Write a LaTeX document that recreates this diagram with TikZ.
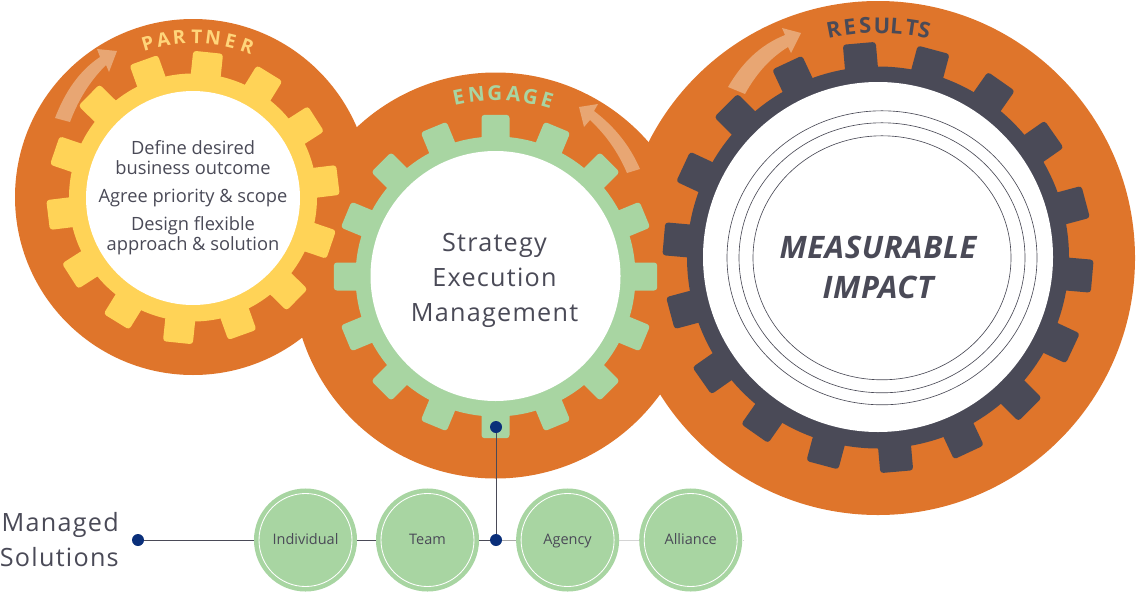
\documentclass[tikz,border=0pt]{standalone}
\usepackage{fontspec}
\setmainfont{Open Sans}
\usepackage{tikz}
\usetikzlibrary{calc}

\definecolor{rimorange}{HTML}{DF752B}
\definecolor{arrowtint}{HTML}{E8A673}
\definecolor{gearyellow}{HTML}{FFD357}
\definecolor{labelyellow}{HTML}{FFD57A}
\definecolor{geargreen}{HTML}{A8D5A2}
\definecolor{geardark}{HTML}{4A4A57}
\definecolor{dotnavy}{HTML}{0A2F7A}
\definecolor{wiregrey}{HTML}{A6A6A6}
\definecolor{wirepale}{HTML}{D4D4D4}

\tikzset{
    arclabel/.style={inner sep=0pt, font=\fontsize{13.5}{13.5}\selectfont\bfseries},
    bodytext/.style={align=center, text=geardark, inner sep=0pt},
    spaced/.style={font=\fontsize{17.9}{24.9}\selectfont\addfontfeature{LetterSpace=5}},
    solution/.style={circle, fill=geargreen, minimum size=2.575cm, inner sep=0pt, text=geardark, text height=8.4pt, text depth=1.5pt, font=\fontsize{10.3}{12}\selectfont},
    dot/.style={circle, fill=dotnavy, minimum size=.3cm, inner sep=0pt},
    wire/.style={draw=geardark, line width=.7pt},
    hoop/.style={draw=geardark, line width=.45pt}
}

\newcommand{\gearwheel}[8]{
    \fill[#8] (#1,#2) circle (#5);
    \foreach \k in {1,...,#3}
        \fill[#8, rounded corners=2.2pt, shift={(#1,#2)}, rotate=#4+\k*360/#3] (#5-8,-#7/2) rectangle (#6,#7/2);
}

\begin{document}
\begin{tikzpicture}[x=.025cm, y=-.025cm]
    \useasboundingbox (0,0) rectangle (1136,592);

    \fill[rimorange] (193,197) circle (178);
    \fill[rimorange] (495.5,275.5) circle (203);
    \fill[rimorange] (878,258) circle (257);

    \fill[arrowtint] (55,118) .. controls (65,92) and (79,71) .. (100,57) -- (97,49) -- (117,51) -- (109,72) -- (106,65) .. controls (91,80) and (79,98) .. (70,122) -- cycle;
    \fill[arrowtint] (640,169) .. controls (630,146) and (615,127) .. (594,111) -- (598,104) -- (579,107) -- (584,127) -- (590,120) .. controls (606,135) and (618,152) .. (627,173) -- cycle;
    \fill[arrowtint] (728,87) .. controls (742,63) and (760,45) .. (785,35) -- (782,28) -- (801,33) -- (791,53) -- (788,47) .. controls (770,58) and (756,74) .. (745,94) -- cycle;

    \gearwheel{193}{197.5}{14}{6.9}{124}{146}{30}{gearyellow}
    \gearwheel{495.5}{276.5}{16}{0}{140}{161.7}{28}{geargreen}
    \gearwheel{878}{257.5}{18}{-5}{191}{215}{33}{geardark}

    \fill[white] (193,198) circle (107);
    \fill[white] (495.5,276) circle (125);
    \fill[white] (878,257) circle (175);

    \draw[hoop] (882,257.8) ellipse (155 and 147);
    \draw[hoop] (882,257.8) ellipse (143 and 135);
    \draw[hoop] (882,257.8) ellipse (129 and 122);

    \foreach \ch/\ang [count=\i] in {P/106.3,A/100.6,R/95,T/88.7,N/82.8,E/76.5,R/70.4}
        \node[arclabel, text=labelyellow, rotate=\ang-90] (partner\i) at ([shift={(193,198)}] -\ang:161.5) {\ch};
    \foreach \ch/\ang [count=\i] in {E/101.6,N/96,G/90.2,A/84.3,G/79,E/73.6}
        \node[arclabel, text=geargreen, font=\fontsize{14.6}{14.6}\selectfont\bfseries, rotate=\ang-90] (engage\i) at ([shift={(495.5,276.5)}] -\ang:183.5) {\ch};
    \foreach \ch/\ang [count=\i] in {R/101,E/97,S/93.2,U/89,L/85.4,T/81.6,S/78.5}
        \node[arclabel, text=geardark, font=\fontsize{15.5}{15.5}\selectfont\bfseries, rotate=\ang-90] (results\i) at ([shift={(878,257.5)}] -\ang:232) {\ch};

    \node[bodytext, font=\fontsize{13}{13.8}\selectfont] (define) at (193,157.5) {Define desired\\business outcome};
    \node[bodytext, font=\fontsize{13}{13.8}\selectfont] (agree) at (193,197.5) {Agree priority \& scope};
    \node[bodytext, font=\fontsize{13}{13.8}\selectfont] (design) at (193,235.5) {Design flexible\\approach \& solution};

    \node[bodytext, spaced] (strategy) at (494.5,280.5) {Strategy\\Execution\\Management};
    \node[bodytext, font=\fontsize{22}{28.4}\selectfont\bfseries\itshape\addfontfeature{LetterSpace=2}] (impact) at (878,267) {MEASURABLE\\IMPACT};

    \node[bodytext, spaced, align=right, anchor=east] (managed) at (119,540) {Managed\\Solutions};

    \node[dot] (startdot) at (138,540) {};
    \node[solution] (individual) at (305.5,540) {Individual};
    \node[solution] (team) at (427.5,540) {Team};
    \node[solution] (agency) at (567.6,540) {Agency};
    \node[solution] (alliance) at (690.7,540) {Alliance};
    \coordinate (wireend) at (743.5,540);
    \node[dot] (stemtop) at (496,427) {};
    \node[dot] (stemfoot) at (496,540) {};

    \foreach \n in {individual,team,agency,alliance}
        \draw[white, line width=.6pt] (\n.center) circle (46.5);

    \draw[wire] (startdot) -- (individual);
    \draw[wire] (individual) -- (team);
    \draw[wire] (team) -- (stemfoot);
    \draw[wire] (stemtop) -- (stemfoot);
    \draw[wire, draw=wiregrey] (stemfoot) -- (agency);
    \draw[wire, draw=wirepale] (agency) -- (alliance);
    \draw[wire, draw=wirepale] (alliance) -- (wireend);
\end{tikzpicture}
\end{document}
